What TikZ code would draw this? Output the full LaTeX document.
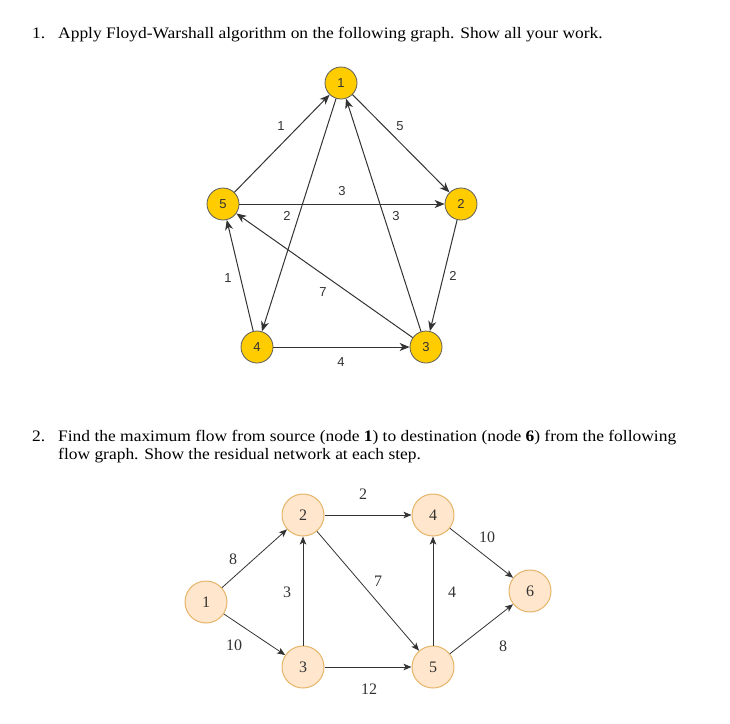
\documentclass[tikz,border=0pt]{standalone}
\usepackage{fontspec}
\usepackage{graphicx}
\setmainfont{Liberation Serif}
\newfontfamily\arialfont{Liberation Sans}
\usetikzlibrary{arrows.meta}
\definecolor{gold}{HTML}{FFCC00}
\definecolor{peach}{HTML}{FFE6CC}
\definecolor{peachline}{HTML}{E5B56A}
\definecolor{edgegray}{HTML}{333333}
\newcommand{\wide}[1]{\scalebox{1.09}[1]{#1}}
\tikzset{
  ynode/.style={circle,draw=edgegray!80,fill=gold,line width=0.8pt,minimum size=32pt,inner sep=0pt,font=\arialfont\fontsize{13}{13}\selectfont,text=edgegray},
  pnode/.style={circle,draw=peachline,fill=peach,line width=1pt,minimum size=42pt,inner sep=0pt,font=\fontsize{16}{16}\selectfont,text=edgegray},
  yedge/.style={draw=edgegray,line width=1pt,-{Stealth[length=10pt,width=8pt,inset=3pt]}},
  pedge/.style={draw=edgegray,line width=0.8pt,-{Stealth[length=8pt,width=6.5pt,inset=2pt]}},
  ylab/.style={font=\arialfont\fontsize{13}{13}\selectfont,text=edgegray,inner sep=0pt},
  plab/.style={font=\fontsize{16}{16}\selectfont,text=edgegray,inner sep=0pt},
  qtext/.style={font=\fontsize{16}{18}\selectfont,inner sep=0pt,anchor=base west}
}
\begin{document}
\begin{tikzpicture}[x=1pt,y=-1pt]
\useasboundingbox[fill=white] (0,0) rectangle (730,723);
% question texts
\node[qtext] (q1n) at (32,38) {\wide{1.}};
\node[qtext] (q1) at (58,38) {\wide{Apply Floyd-Warshall algorithm on the following graph. Show all your work.}};
\node[qtext] (q2n) at (32,441) {\wide{2.}};
\node[qtext] (q2a) at (58,441) {\wide{Find the maximum flow from source (node \textbf{1}) to destination (node \textbf{6}) from the following}};
\node[qtext] (q2b) at (58,459) {\wide{flow graph. Show the residual network at each step.}};
% graph 1
\node[ynode] (a1) at (341,83) {1};
\node[ynode] (a2) at (461,204) {2};
\node[ynode] (a3) at (426,347) {3};
\node[ynode] (a4) at (257,347) {4};
\node[ynode] (a5) at (223,204) {5};
\draw[yedge] (a5) -- (a1);
\draw[yedge] (a1) -- (a2);
\draw[yedge] (a5) -- (a2);
\draw[yedge] (a1) -- (a4);
\draw[yedge] (a3) -- (a1);
\draw[yedge] (a2) -- (a3);
\draw[yedge] (a3) -- (a5);
\draw[yedge] (a4) -- (a5);
\draw[yedge] (a4) -- (a3);
\node[ylab] (l51) at (281,126) {1};
\node[ylab] (l12) at (400,126) {5};
\node[ylab] (l52) at (342,191) {3};
\node[ylab] (l14) at (287,216) {2};
\node[ylab] (l31) at (396,216) {3};
\node[ylab] (l23) at (453,276) {2};
\node[ylab] (l35) at (323,292) {7};
\node[ylab] (l45) at (228,278) {1};
\node[ylab] (l43) at (341,362) {4};
% graph 2
\node[pnode] (b1) at (206,602) {1};
\node[pnode] (b2) at (303,515) {2};
\node[pnode] (b3) at (303,667) {3};
\node[pnode] (b4) at (433,515) {4};
\node[pnode] (b5) at (433,667) {5};
\node[pnode] (b6) at (530,591) {6};
\draw[pedge] (b1) -- (b2);
\draw[pedge] (b1) -- (b3);
\draw[pedge] (b3) -- (b2);
\draw[pedge] (b2) -- (b4);
\draw[pedge] (b2) -- (b5);
\draw[pedge] (b3) -- (b5);
\draw[pedge] (b5) -- (b4);
\draw[pedge] (b4) -- (b6);
\draw[pedge] (b5) -- (b6);
\node[plab] (m24) at (363,494) {2};
\node[plab] (m12) at (233,559) {8};
\node[plab] (m13) at (234,645) {10};
\node[plab] (m32) at (287,592) {3};
\node[plab] (m25) at (378,581) {7};
\node[plab] (m54) at (452,592) {4};
\node[plab] (m46) at (487,537) {10};
\node[plab] (m56) at (503,646) {8};
\node[plab] (m35) at (369,689) {12};
\end{tikzpicture}
\end{document}
